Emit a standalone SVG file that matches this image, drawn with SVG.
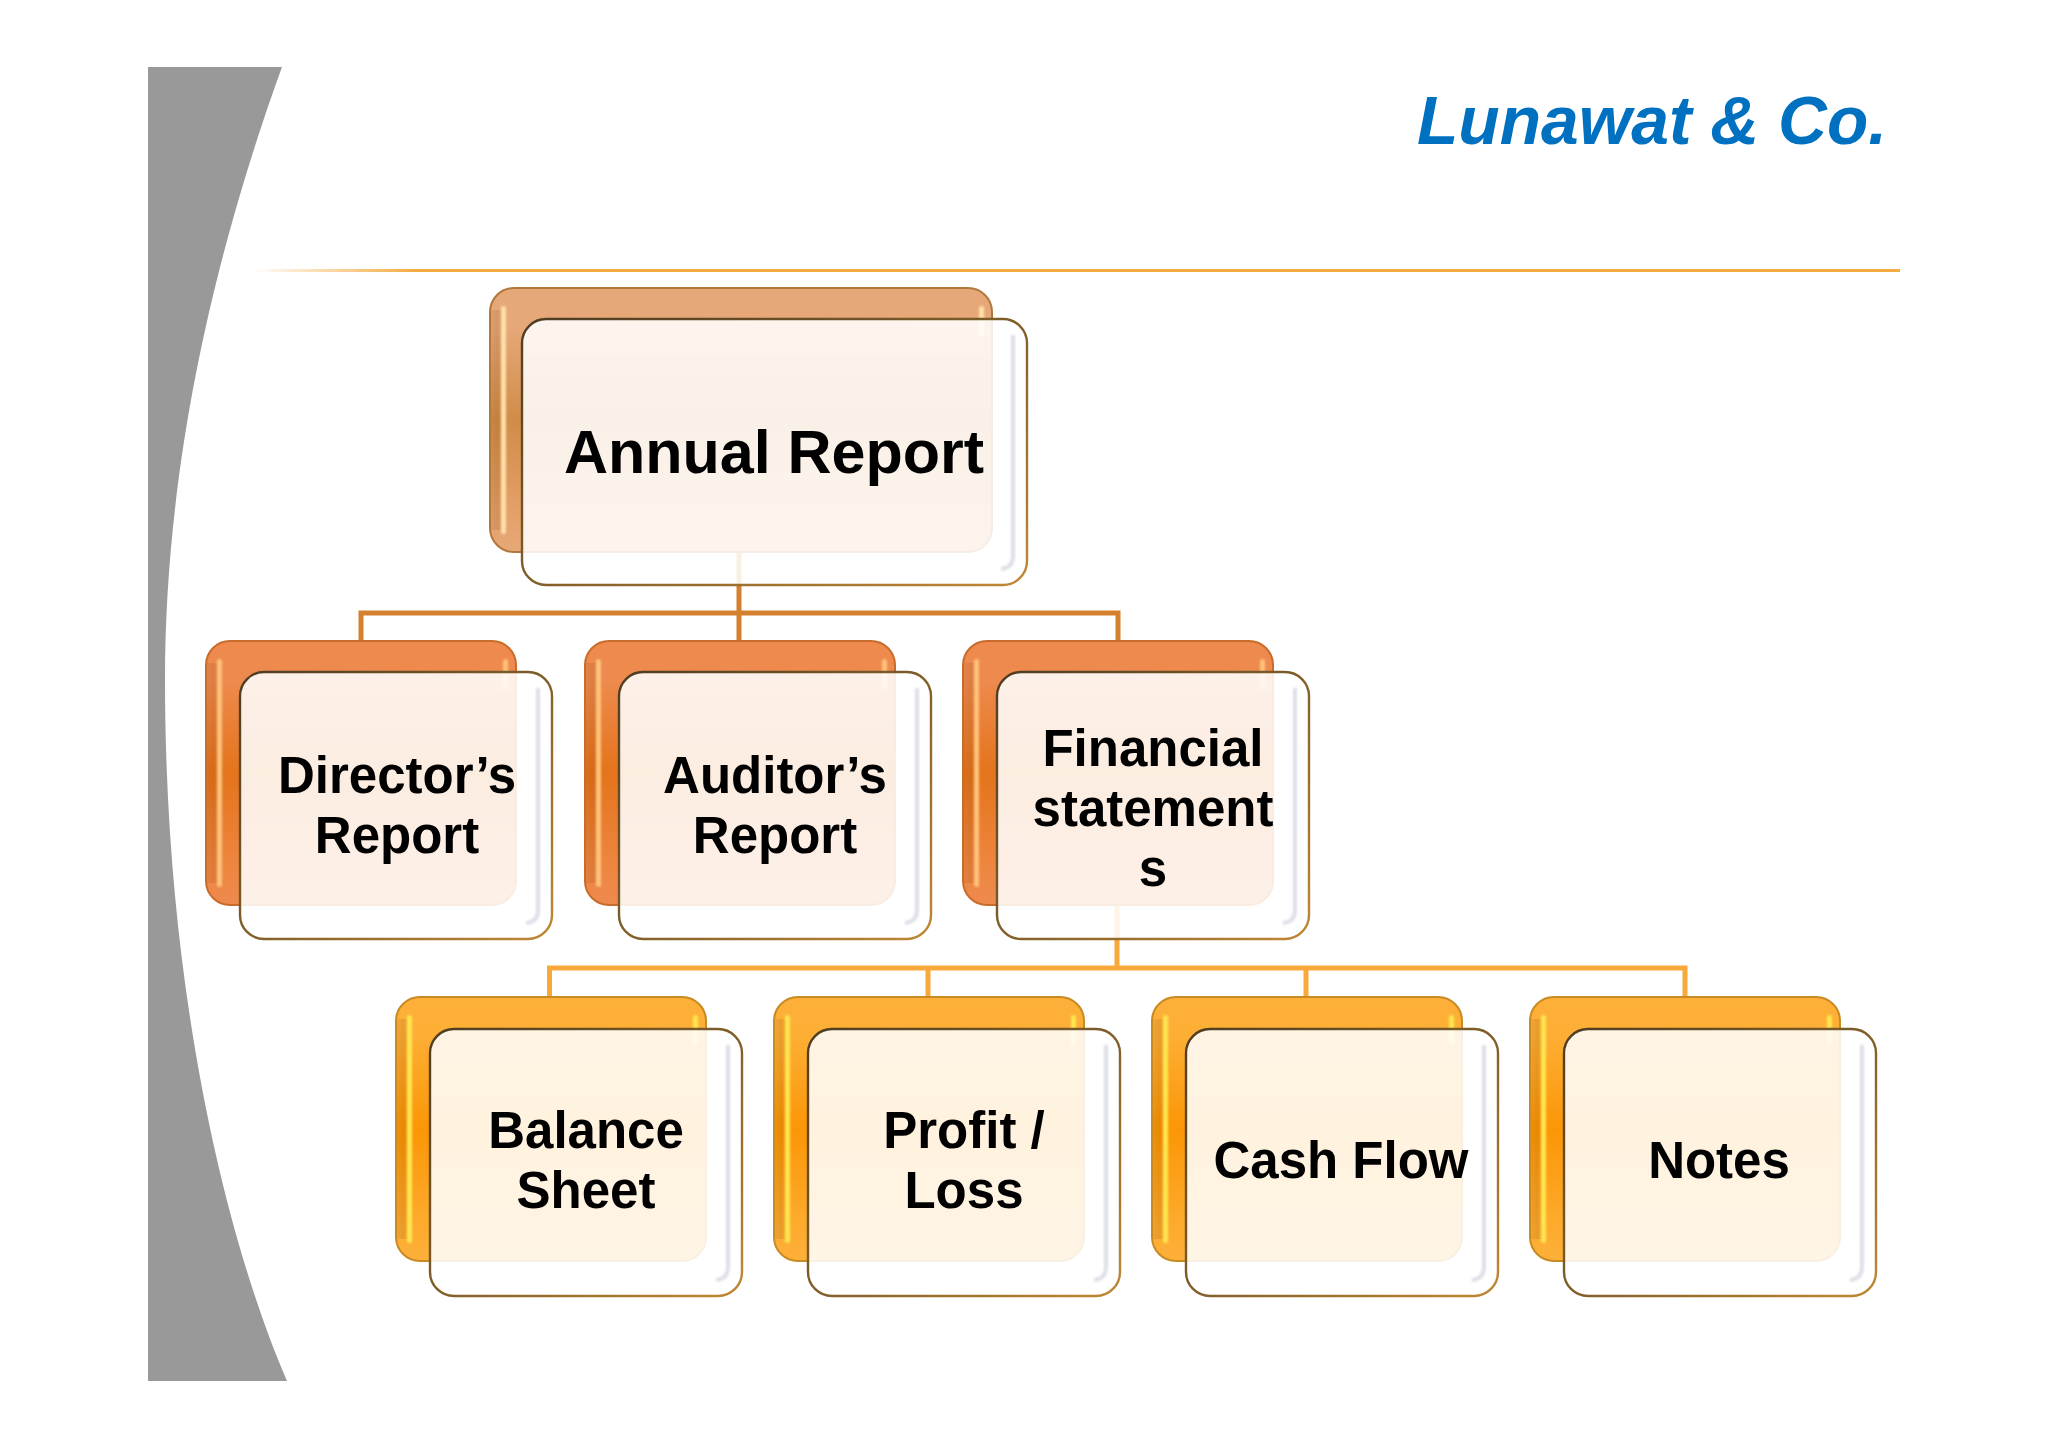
<svg xmlns="http://www.w3.org/2000/svg" xmlns:xlink="http://www.w3.org/1999/xlink" width="2048" height="1447" viewBox="0 0 2048 1447">
<style>
.lbl{font-family:"Liberation Sans",Arial,sans-serif;font-weight:700;fill:#000;text-anchor:middle;font-size:51px}
.big{font-size:61px}
.title{font-family:"Liberation Sans",Arial,sans-serif;font-weight:700;font-style:italic;font-size:67.7px;fill:#0070c0}
.c1,.c2{fill:none;stroke-width:5}
.c1{stroke:#d4802f}
.c2{stroke:#f9a83a}
.o{fill:url(#gO);stroke:#c86c2c;color:#ffc27a}
.y{fill:url(#gY);stroke:#c88a22;color:#ffe650}
.a{fill:url(#gA);stroke:#b2773c;color:#ffe0a8}
.face{fill:#fff;fill-opacity:.87;stroke:url(#gS);stroke-width:2.4}
.bev{fill:none;stroke:#dfdfe8;stroke-width:4;filter:url(#blur)}
.hi{fill:currentColor;stroke:none;filter:url(#blur)}
.edge{fill:url(#gE);stroke:none}
</style>
<defs>
<linearGradient id="gO" x1="0" y1="0" x2="0" y2="1"><stop offset="0" stop-color="#ee8a4e"/><stop offset=".15" stop-color="#ee8a4e"/><stop offset=".5" stop-color="#e4741c"/><stop offset=".85" stop-color="#ee8640"/><stop offset="1" stop-color="#ee8a4e"/></linearGradient>
<linearGradient id="gY" x1="0" y1="0" x2="0" y2="1"><stop offset="0" stop-color="#fdb03a"/><stop offset=".15" stop-color="#fdae34"/><stop offset=".5" stop-color="#fb9606"/><stop offset=".85" stop-color="#fdaa2c"/><stop offset="1" stop-color="#fdb03a"/></linearGradient>
<linearGradient id="gA" x1="0" y1="0" x2="0" y2="1"><stop offset="0" stop-color="#e6a878"/><stop offset=".15" stop-color="#e6a878"/><stop offset=".5" stop-color="#d08c48"/><stop offset=".85" stop-color="#e4a068"/><stop offset="1" stop-color="#e6a878"/></linearGradient>
<linearGradient id="gE" x1="0" y1="0" x2="1" y2="0"><stop offset="0" stop-color="#6a3000" stop-opacity=".08"/><stop offset=".4" stop-color="#6a3000" stop-opacity=".14"/><stop offset="1" stop-color="#6a3000" stop-opacity="0"/></linearGradient>
<linearGradient id="gS" x1="0" y1="0" x2="1" y2="1"><stop offset="0" stop-color="#4e3c22"/><stop offset=".45" stop-color="#7a5a28"/><stop offset="1" stop-color="#c08834"/></linearGradient>
<linearGradient id="gR" x1="0" y1="0" x2="1" y2="0"><stop offset="0" stop-color="#f4ab3f" stop-opacity="0"/><stop offset=".1" stop-color="#f4ab3f"/><stop offset="1" stop-color="#f4ab3f"/></linearGradient>
<filter id="blur" x="-50%" y="-5%" width="200%" height="110%"><feGaussianBlur stdDeviation="1.2"/></filter>
<g id="backS">
<rect width="310" height="264" rx="24" stroke-width="2"/>
<rect class="edge" x="1" y="22" width="16" height="220"/>
<rect class="hi" x="11" y="18" width="5" height="228" rx="2.5"/>
<rect class="hi" x="297" y="18" width="5" height="30" rx="2.5"/>
</g>
<g id="backA">
<rect width="502" height="264" rx="24" stroke-width="2"/>
<rect class="edge" x="1" y="22" width="16" height="220"/>
<rect class="hi" x="11" y="18" width="5" height="228" rx="2.5"/>
<rect class="hi" x="489" y="18" width="5" height="30" rx="2.5"/>
</g>
<g id="faceS">
<rect class="face" width="312" height="267" rx="24"/>
<path class="bev" d="M298 16V238Q298 250 286 251"/>
<path class="bev" opacity=".35" d="M286 251H30"/>
<path class="bev" opacity=".6" d="M3.500 24V245"/>
</g>
<g id="faceA">
<rect class="face" width="505" height="266" rx="24"/>
<path class="bev" d="M491 16V237Q491 249 479 250"/>
<path class="bev" opacity=".35" d="M479 250H30"/>
<path class="bev" opacity=".6" d="M3.500 24V244"/>
</g>
</defs>
<rect width="2048" height="1447" fill="#fff"/>
<path id="sidebar" fill="#999" d="M148 67H282C232 205 165 430 165 680C165 1000 230 1250 287 1381H148Z"/>
<rect id="rule" x="252" y="269" width="1648" height="3" fill="url(#gR)"/>
<text class="title" x="1417" y="144">Lunawat &amp; Co.</text>
<g id="connectors">
<path class="c1" d="M739 552V613M361 641V613H1118V641M739 613V641"/>
<path class="c2" d="M1117 906V968M549.500 997V968H1685V997M928 968V997M1306 968V997"/>
</g>
<g id="annual-report"><use href="#backA" class="a" x="490" y="288"/><use href="#faceA" x="522" y="319"/><text class="lbl big" x="774" y="473">Annual Report</text></g>
<g id="directors-report"><use href="#backS" class="o" x="206" y="641"/><use href="#faceS" x="240" y="672"/><text class="lbl" x="397" y="793">Director’s</text><text class="lbl" x="397" y="853">Report</text></g>
<g id="auditors-report"><use href="#backS" class="o" x="585" y="641"/><use href="#faceS" x="619" y="672"/><text class="lbl" x="775" y="793">Auditor’s</text><text class="lbl" x="775" y="853">Report</text></g>
<g id="financial-statements"><use href="#backS" class="o" x="963" y="641"/><use href="#faceS" x="997" y="672"/><text class="lbl" x="1153" y="766">Financial</text><text class="lbl" x="1153" y="826">statement</text><text class="lbl" x="1153" y="886">s</text></g>
<g id="balance-sheet"><use href="#backS" class="y" x="396" y="997"/><use href="#faceS" x="430" y="1029"/><text class="lbl" x="586" y="1148">Balance</text><text class="lbl" x="586" y="1208">Sheet</text></g>
<g id="profit-loss"><use href="#backS" class="y" x="774" y="997"/><use href="#faceS" x="808" y="1029"/><text class="lbl" x="964" y="1148">Profit /</text><text class="lbl" x="964" y="1208">Loss</text></g>
<g id="cash-flow"><use href="#backS" class="y" x="1152" y="997"/><use href="#faceS" x="1186" y="1029"/><text class="lbl" x="1341" y="1178">Cash Flow</text></g>
<g id="notes"><use href="#backS" class="y" x="1530" y="997"/><use href="#faceS" x="1564" y="1029"/><text class="lbl" x="1719" y="1178">Notes</text></g>
</svg>
